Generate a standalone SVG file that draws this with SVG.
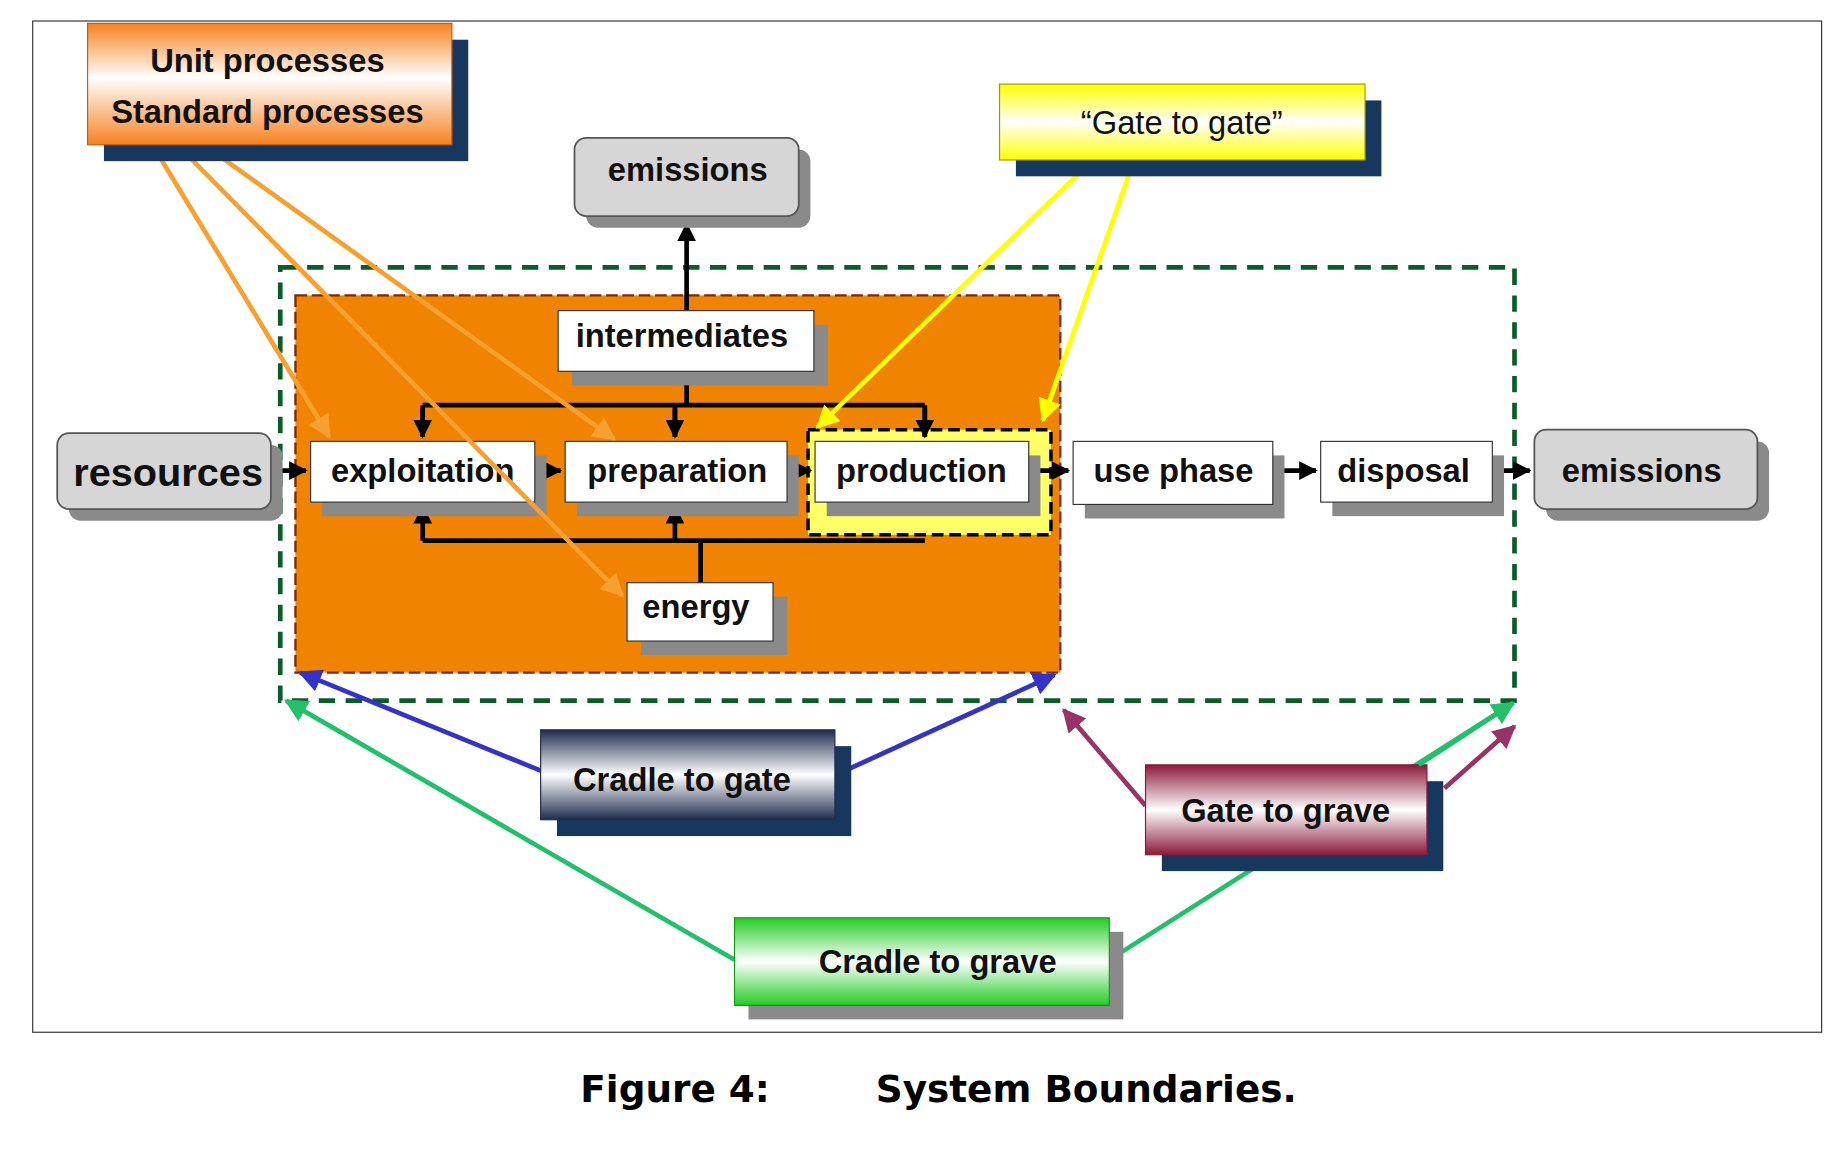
<svg xmlns="http://www.w3.org/2000/svg" width="1831" height="1166" viewBox="0 0 1831 1166">
<defs>
<style>
.t{font-family:"Liberation Sans",Arial,sans-serif;font-weight:bold;font-size:28px;text-anchor:middle;fill:#111}
.wb{fill:#fff;stroke:#333;stroke-width:1}
.sh{fill:#8a8a8a}
.gr{fill:#d6d6d6;stroke:#555;stroke-width:1.5}
.ln{stroke:#000;stroke-width:4;fill:none}
</style>
<linearGradient id="go" x1="0" y1="0" x2="0" y2="1"><stop offset="0" stop-color="#f58220"/><stop offset="0.45" stop-color="#fff"/><stop offset="1" stop-color="#f58220"/></linearGradient>
<linearGradient id="gy" x1="0" y1="0" x2="0" y2="1"><stop offset="0" stop-color="#ffff00"/><stop offset="0.5" stop-color="#fff"/><stop offset="1" stop-color="#ffff00"/></linearGradient>
<linearGradient id="gb" x1="0" y1="0" x2="0" y2="1"><stop offset="0" stop-color="#1f2c4d"/><stop offset="0.5" stop-color="#fff"/><stop offset="1" stop-color="#1f2c4d"/></linearGradient>
<linearGradient id="gm" x1="0" y1="0" x2="0" y2="1"><stop offset="0" stop-color="#8b1a3a"/><stop offset="0.5" stop-color="#fff"/><stop offset="1" stop-color="#8b1a3a"/></linearGradient>
<linearGradient id="gg" x1="0" y1="0" x2="0" y2="1"><stop offset="0" stop-color="#22cc22"/><stop offset="0.5" stop-color="#fff"/><stop offset="1" stop-color="#22cc22"/></linearGradient>
<marker id="ak" viewBox="0 0 10 10" refX="9" refY="5" markerWidth="4" markerHeight="4" orient="auto"><path d="M0,0L10,5L0,10z" fill="#000"/></marker>
<marker id="ao" viewBox="0 0 10 10" refX="9" refY="5" markerWidth="5" markerHeight="5" orient="auto"><path d="M0,0L10,5L0,10z" fill="#f7a030"/></marker>
<marker id="ay" viewBox="0 0 10 10" refX="9" refY="5" markerWidth="5" markerHeight="5" orient="auto"><path d="M0,0L10,5L0,10z" fill="#ffff00"/></marker>
<marker id="ab" viewBox="0 0 10 10" refX="9" refY="5" markerWidth="5" markerHeight="5" orient="auto"><path d="M0,0L10,5L0,10z" fill="#3333cc"/></marker>
<marker id="am" viewBox="0 0 10 10" refX="9" refY="5" markerWidth="5" markerHeight="5" orient="auto"><path d="M0,0L10,5L0,10z" fill="#993366"/></marker>
<marker id="ag" viewBox="0 0 10 10" refX="9" refY="5" markerWidth="5" markerHeight="5" orient="auto"><path d="M0,0L10,5L0,10z" fill="#22c06a"/></marker>
</defs>
<rect width="1831" height="1166" fill="#fff"/>
<g transform="scale(1.1677)">
<rect x="28" y="18" width="1532" height="866" fill="none" stroke="#333" stroke-width="1"/>
<rect x="240" y="229" width="1057" height="371" fill="none" stroke="#0a5c2a" stroke-width="4" stroke-dasharray="14,9"/>
<rect id="orange" x="253" y="253" width="655" height="323" fill="#f08300" stroke="#7a2a10" stroke-width="2" stroke-dasharray="10,4"/>
<rect x="692" y="368" width="208" height="90" fill="#ffff66" stroke="#000" stroke-width="3" stroke-dasharray="10,5"/>

<g id="connectors">
<path class="ln" d="M588 266V192" marker-end="url(#ak)"/>
<path class="ln" d="M588 318V347M362 347H792M362 347V374M578 347V374M792 347V374" />
<path class="ln" d="M362 350V374" marker-end="url(#ak)"/>
<path class="ln" d="M578 350V374" marker-end="url(#ak)"/>
<path class="ln" d="M792 350V374" marker-end="url(#ak)"/>
<path class="ln" d="M600 499V463M362 463H792"/>
<path class="ln" d="M362 463V434" marker-end="url(#ak)"/>
<path class="ln" d="M578 463V434" marker-end="url(#ak)"/>
<path class="ln" d="M232 403H262" marker-end="url(#ak)"/>
<path class="ln" d="M458 403H480" marker-end="url(#ak)"/>
<path class="ln" d="M674 403H694" marker-end="url(#ak)"/>
<path class="ln" d="M881 403H915" marker-end="url(#ak)"/>
<path class="ln" d="M1090 403H1127" marker-end="url(#ak)"/>
<path class="ln" d="M1278 403H1310" marker-end="url(#ak)"/>
</g>

<g id="resources"><rect x="59" y="381" width="183" height="65" rx="10" class="sh"/><rect x="49" y="371" width="183" height="65" rx="10" class="gr"/><text x="144" y="416" class="t" style="font-size:34px">resources</text></g>
<g id="emissions-top"><rect x="502" y="128" width="192" height="67" rx="10" class="sh"/><rect x="492" y="118" width="192" height="67" rx="10" class="gr"/><text x="589" y="155" class="t">emissions</text></g>
<g id="emissions-right"><rect x="1324" y="378" width="191" height="68" rx="10" class="sh"/><rect x="1314" y="368" width="191" height="68" rx="10" class="gr"/><text x="1406" y="413" class="t">emissions</text></g>
<g id="intermediates"><rect x="490" y="278" width="219" height="52" class="sh"/><rect x="478" y="266" width="219" height="52" class="wb"/><text x="584" y="297" class="t">intermediates</text></g>
<g id="exploitation"><rect x="276" y="390" width="192" height="52" class="sh"/><rect x="266" y="378" width="192" height="52" class="wb"/><text x="362" y="413" class="t">exploitation</text></g>
<g id="preparation"><rect x="494" y="390" width="190" height="52" class="sh"/><rect x="484" y="378" width="190" height="52" class="wb"/><text x="580" y="413" class="t">preparation</text></g>
<g id="production"><rect x="708" y="390" width="183" height="52" class="sh"/><rect x="698" y="378" width="183" height="52" class="wb"/><text x="789" y="413" class="t">production</text></g>
<g id="use-phase"><rect x="929" y="390" width="171" height="54" class="sh"/><rect x="919" y="378" width="171" height="54" class="wb"/><text x="1005" y="413" class="t">use phase</text></g>
<g id="disposal"><rect x="1141" y="390" width="147" height="52" class="sh"/><rect x="1131" y="378" width="147" height="52" class="wb"/><text x="1202" y="413" class="t">disposal</text></g>
<g id="energy"><rect x="549" y="511" width="125" height="50" class="sh"/><rect x="537" y="499" width="125" height="50" class="wb"/><text x="596" y="529" class="t">energy</text></g>

<g id="pointers" stroke-width="4" fill="none">
<path d="M122 110L282 374" stroke="#f7a030" marker-end="url(#ao)"/>
<path d="M140 112L533 510" stroke="#f7a030" marker-end="url(#ao)"/>
<path d="M158 112L526 376" stroke="#f7a030" marker-end="url(#ao)"/>
<path d="M938 135L700 366" stroke="#ffff00" marker-end="url(#ay)"/>
<path d="M972 135L893 360" stroke="#ffff00" marker-end="url(#ay)"/>
<path d="M463 660L257 576" stroke="#3333cc" marker-end="url(#ab)"/>
<path d="M728 658L903 578" stroke="#3333cc" marker-end="url(#ab)"/>
<path d="M629 822L245 600" stroke="#22c06a" marker-end="url(#ag)"/>
<path d="M950 822L1296 602" stroke="#22c06a" marker-end="url(#ag)"/>
<path d="M981 690L911 608" stroke="#993366" marker-end="url(#am)"/>
<path d="M1237 675L1297 622" stroke="#993366" marker-end="url(#am)"/>
</g>

<g id="unit-processes"><rect x="89" y="34" width="312" height="104" fill="#17375e"/><rect x="75" y="20" width="312" height="104" fill="url(#go)" stroke="#c55a11"/><text x="229" y="62" class="t">Unit processes</text><text x="229" y="105" class="t">Standard processes</text></g>
<g id="gate-to-gate"><rect x="870" y="86" width="313" height="65" fill="#17375e"/><rect x="856" y="72" width="313" height="65" fill="url(#gy)" stroke="#999900"/><text x="1012" y="115" class="t" style="font-weight:normal">“Gate to gate”</text></g>
<g id="cradle-to-gate"><rect x="477" y="639" width="252" height="77" fill="#17375e"/><rect x="463" y="625" width="252" height="77" fill="url(#gb)" stroke="#1f2c4d"/><text x="584" y="677" class="t">Cradle to gate</text></g>
<g id="gate-to-grave"><rect x="995" y="669" width="241" height="77" fill="#17375e"/><rect x="981" y="655" width="241" height="77" fill="url(#gm)" stroke="#8b1a3a"/><text x="1101" y="704" class="t">Gate to grave</text></g>
<path d="M1215 655L1296 602" stroke="#22c06a" stroke-width="4" fill="none"/>
<g id="cradle-to-grave"><rect x="641" y="798" width="321" height="75" class="sh"/><rect x="629" y="786" width="321" height="75" fill="url(#gg)" stroke="#139913"/><text x="803" y="833" class="t">Cradle to grave</text></g>

<text x="497" y="944" style="font-family:'DejaVu Sans',sans-serif;font-weight:bold;font-size:32px">Figure 4:</text>
<text x="750" y="944" style="font-family:'DejaVu Sans',sans-serif;font-weight:bold;font-size:32px">System Boundaries.</text>
</g>
</svg>
